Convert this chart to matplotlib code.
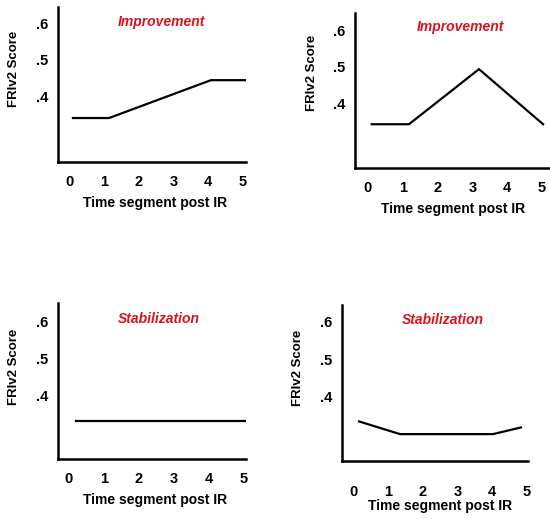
import matplotlib
matplotlib.use("Agg")
import matplotlib.pyplot as plt

plt.rcParams['font.family'] = ['Liberation Sans', 'DejaVu Sans']

# Data
x_ticks = [0, 1, 2, 3, 4, 5]
y_ticks = [0.4, 0.5, 0.6]
y_tick_labels = ['.4', '.5', '.6']

p1_x = [0.11, 1.15, 4.08, 5.09]
p1_y = [0.339, 0.339, 0.444, 0.444]

p2_x = [0.11, 1.18, 3.19, 5.03]
p2_y = [0.342, 0.342, 0.493, 0.342]

p3_x = [0.2, 5.06]
p3_y = [0.329, 0.329]

p4_x = [0.17, 1.35, 4.02, 4.83]
p4_y = [0.333, 0.299, 0.299, 0.317]

titles = ['Improvement', 'Improvement', 'Stabilization', 'Stabilization']
xlabel = 'Time segment post IR'
ylabel = 'FRIv2 Score'

W, H = 550, 519
fig = plt.figure(figsize=(W / 100, H / 100), dpi=100)

def px_axes(l, r, t, b):
    return fig.add_axes([l / W, 1 - b / H, (r - l) / W, (b - t) / H])

panels = [
    dict(box=(58, 246, 7, 162), xlim=(-0.32, 5.09), ylim=(0.217, 0.647),
         tpos=(161, 26), ylpos=(17, 69), xlpos=(155, 207), xpad=9.5,
         x=p1_x, y=p1_y),
    dict(box=(355, 549, 13, 168), xlim=(-0.37, 5.2), ylim=(0.222, 0.647),
         tpos=(460, 31), ylpos=(315, 73), xlpos=(453, 213), xpad=9.5,
         x=p2_x, y=p2_y),
    dict(box=(58, 246, 303, 459), xlim=(-0.31, 5.06), ylim=(0.225, 0.652),
         tpos=(159, 323), ylpos=(17, 367), xlpos=(155, 504), xpad=9.5,
         x=p3_x, y=p3_y),
    dict(box=(342, 528, 305, 461), xlim=(-0.32, 5.03), ylim=(0.227, 0.645),
         tpos=(443, 324), ylpos=(301, 368), xlpos=(440, 510), xpad=17,
         x=p4_x, y=p4_y),
]

red = '#d7141e'

for p, title in zip(panels, titles):
    ax = px_axes(*p['box'])
    ax.plot(p['x'], p['y'], color='black', lw=1.6, solid_joinstyle='miter')
    ax.set_xlim(*p['xlim'])
    ax.set_ylim(*p['ylim'])
    ax.set_xticks(x_ticks)
    ax.set_xticklabels([str(v) for v in x_ticks])
    ax.set_yticks(y_ticks)
    ax.set_yticklabels(y_tick_labels)
    for s in ['top', 'right']:
        ax.spines[s].set_visible(False)
    for s in ['left', 'bottom']:
        ax.spines[s].set_linewidth(1.8)
    ax.tick_params(axis='both', length=0, labelsize=10.5)
    ax.tick_params(axis='x', pad=p['xpad'])
    ax.tick_params(axis='y', pad=7)
    for lab in ax.get_xticklabels() + ax.get_yticklabels():
        lab.set_fontweight('bold')
    fig.text(p['tpos'][0] / W, 1 - p['tpos'][1] / H, title, color=red,
             fontsize=10, fontweight='bold', style='italic',
             family='Liberation Sans', ha='center', va='baseline')
    fig.text(p['ylpos'][0] / W, 1 - p['ylpos'][1] / H, ylabel,
             fontsize=9.5, fontweight='bold', rotation=90,
             ha='center', va='baseline', rotation_mode='anchor')
    fig.text(p['xlpos'][0] / W, 1 - p['xlpos'][1] / H, xlabel,
             fontsize=10, fontweight='bold', ha='center', va='baseline')

fig.savefig('out.png', dpi=100)
